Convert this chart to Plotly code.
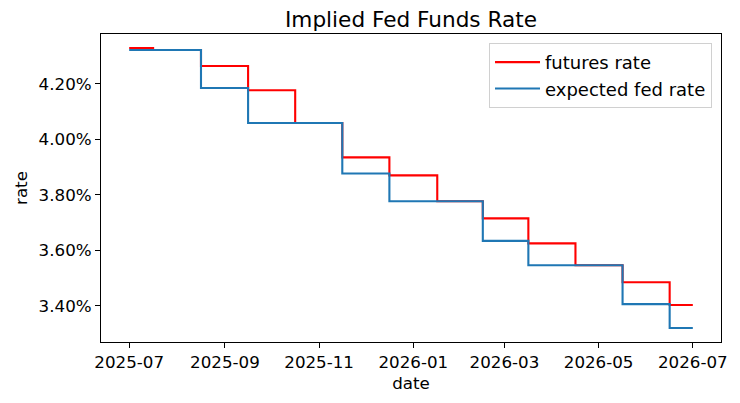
import plotly.graph_objects as go

dates = ["2025-07-01", "2025-08-01", "2025-09-01", "2025-10-01", "2025-11-01",
         "2025-12-01", "2026-01-01", "2026-02-01", "2026-03-01", "2026-04-01",
         "2026-05-01", "2026-06-01", "2026-07-01"]
futures_rate = [4.329, 4.322, 4.264, 4.177, 4.059, 3.935, 3.870, 3.777, 3.715,
                3.625, 3.546, 3.485, 3.403]
expected_fed_rate = [4.322, 4.322, 4.185, 4.059, 4.059, 3.877, 3.777, 3.777,
                     3.634, 3.546, 3.546, 3.406, 3.320]

FONT = "DejaVu Sans"
fs = 16.7

fig = go.Figure()
fig.add_trace(go.Scatter(x=dates, y=futures_rate, name="futures rate", mode="lines",
                         line=dict(color="red", width=2.1, shape="hvh")))
fig.add_trace(go.Scatter(x=dates, y=expected_fed_rate, name="expected fed rate", mode="lines",
                         line=dict(color="#1f77b4", width=2.1, shape="hvh")))

fig.update_layout(
    width=740, height=403,
    margin=dict(l=101, r=19, t=34, b=61),
    paper_bgcolor="white", plot_bgcolor="white",
    font=dict(family=FONT, size=fs, color="black"),
    title=dict(text="Implied Fed Funds Rate", x=0.5, xref="paper", xanchor="center",
               y=1 - 19 / 403, yref="container", yanchor="middle",
               font=dict(size=21.6, family=FONT, color="black")),
    legend=dict(x=0.9855, y=0.971, xanchor="right", yanchor="top",
                bordercolor="#d0d0d0", borderwidth=1, bgcolor="rgba(255,255,255,0.8)",
                itemwidth=45, tracegroupgap=0,
                font=dict(size=18, family=FONT)),
    showlegend=True,
)
fig.update_xaxes(
    range=["2025-06-12 18:00", "2026-07-19 06:00"],
    tickformat="%Y-%m", dtick="M2", tick0="2025-07-01",
    showgrid=False, zeroline=False,
    showline=True, mirror=True, linecolor="black", linewidth=1.1,
    ticks="outside", ticklen=5, tickwidth=1.1, tickcolor="black",
    title=dict(text="date", standoff=6, font=dict(size=fs)),
)
fig.update_yaxes(
    range=[3.2695, 4.3795],
    tick0=0, dtick=0.2, tickformat=".2f", ticksuffix="%",
    showgrid=False, zeroline=False,
    showline=True, mirror=True, linecolor="black", linewidth=1.1,
    ticks="outside", ticklen=5, tickwidth=1.1, tickcolor="black",
    title=dict(text="rate", standoff=6, font=dict(size=fs)),
)

fig.write_html("out.html")
